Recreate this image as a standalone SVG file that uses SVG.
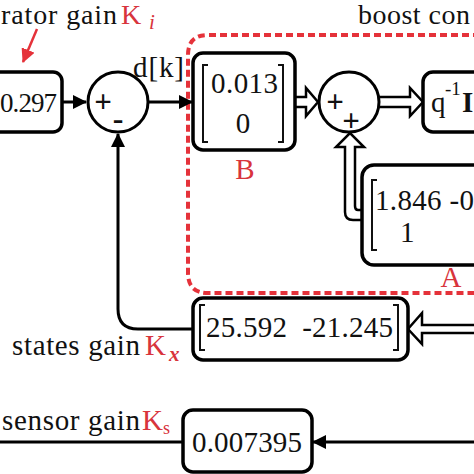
<svg xmlns="http://www.w3.org/2000/svg" width="474" height="474" viewBox="0 0 474 474">
<style>
.box{fill:#fff;stroke:#000;stroke-width:3.5}
.ln{fill:none;stroke:#000;stroke-width:3}
.hol{fill:#fff;stroke:#000;stroke-width:2.5;stroke-linejoin:miter}
.brk{fill:none;stroke:#111;stroke-width:2}
</style>
<defs>
<marker id="ah" markerWidth="14" markerHeight="14" refX="13" refY="7" orient="auto" markerUnits="userSpaceOnUse">
<path d="M0,0 L14,7 L0,14 Z" fill="#000"/>
</marker>
<marker id="rah" markerWidth="14" markerHeight="14" refX="13" refY="7" orient="auto" markerUnits="userSpaceOnUse">
<path d="M0,0 L14,7 L0,14 Z" fill="#e5323a"/>
</marker>
</defs>
<g font-family="Liberation Serif, DejaVu Serif, serif" font-size="29" fill="#111">

<g id="boost-region">
<path d="M480,35 L208,35 Q188,35 188,55 L188,273 Q188,293 208,293 L480,293" fill="none" stroke="#e5323a" stroke-width="4" stroke-dasharray="7,4"/>
<text x="358" y="24" font-size="28" textLength="112">boost con</text>
</g>

<g id="connectors">
<path class="ln" d="M62,102 L86,102" marker-end="url(#ah)"/>
<path class="ln" d="M148,102 L192,102" marker-end="url(#ah)"/>
<path class="ln" d="M193,329 L138,329 Q118,329 118,309 L118,134" marker-end="url(#ah)"/>
<path class="ln" d="M474,442 L313,442" marker-end="url(#ah)"/>
<path class="ln" d="M183,442 L0,442"/>
<path d="M37,29 L23,62" stroke="#e5323a" stroke-width="2.5" marker-end="url(#rah)"/>
<path class="hol" d="M295,97 L306,97 L306,88 L318,102 L306,116 L306,107 L295,107"/>
<path class="hol" d="M380,97 L410,97 L410,88 L423,102 L410,116 L410,107 L380,107"/>
<path class="hol" d="M362,210 L358,210 Q355,210 355,206 L355,147 L364,147 L350,133 L336,147 L345,147 L345,212 Q345,220 353,220 L362,220"/>
<path class="hol" d="M476,325 L422,325 L422,313 L408,329 L422,344 L422,333 L476,333"/>
<text x="133" y="77" textLength="51">d[k]</text>
</g>

<g id="integrator-gain">
<rect class="box" x="-12" y="72" width="74" height="60" rx="9"/>
<text x="0" y="112" font-size="27" textLength="57">0.297</text>
<text x="1" y="24" font-size="28" textLength="116">rator gain</text>
<text x="121" y="24" font-size="28" fill="#d8343c" textLength="26">K</text>
<text x="149" y="29" fill="#d8343c" font-style="italic" font-size="21">i</text>
</g>

<g id="sum1">
<circle cx="118" cy="102" r="30" fill="#fff" stroke="#000" stroke-width="3"/>
<text x="103" y="112" text-anchor="middle" font-size="31" font-weight="bold">+</text>
<text x="118" y="129" text-anchor="middle" font-size="32" font-weight="bold">-</text>
</g>

<g id="B">
<rect class="box" x="193" y="53" width="102" height="97" rx="10"/>
<path class="brk" d="M208,65 L203,65 L203,142 L208,142"/>
<path class="brk" d="M278,65 L283,65 L283,142 L278,142"/>
<text x="211" y="93" textLength="67">0.013</text>
<text x="243" y="133" text-anchor="middle">0</text>
<text x="245" y="179" text-anchor="middle" fill="#d8343c">B</text>
</g>

<g id="sum2">
<circle cx="349" cy="102" r="30" fill="#fff" stroke="#000" stroke-width="3"/>
<text x="335" y="112" text-anchor="middle" font-size="31" font-weight="bold">+</text>
<text x="351" y="131" text-anchor="middle" font-size="31" font-weight="bold">+</text>
</g>

<g id="delay">
<rect class="box" x="423" y="72" width="70" height="60" rx="10"/>
<text x="431" y="112">q</text>
<text x="445" y="95" font-size="19">-1</text>
<text x="462" y="112" font-weight="bold">I</text>
</g>

<g id="A">
<rect class="box" x="362" y="165" width="130" height="100" rx="12"/>
<path class="brk" d="M377,180 L372,180 L372,250 L377,250"/>
<text x="375" y="210" textLength="99">1.846 -0</text>
<text x="400" y="242">1</text>
<text x="451" y="287" text-anchor="middle" fill="#d8343c">A</text>
</g>

<g id="states-gain">
<rect class="box" x="193" y="298" width="215" height="62" rx="10"/>
<path class="brk" d="M205,305 L200,305 L200,350 L205,350"/>
<path class="brk" d="M393,305 L398,305 L398,350 L393,350"/>
<text x="206" y="337" textLength="187" xml:space="preserve">25.592  -21.245</text>
<text x="12" y="355" textLength="128">states gain</text>
<text x="145" y="355" fill="#d8343c" textLength="23">K</text>
<text x="169" y="361" fill="#d8343c" font-style="italic" font-weight="bold" font-size="21">x</text>
</g>

<g id="sensor-gain">
<rect class="box" x="183" y="410" width="129" height="62" rx="10"/>
<text x="192" y="452" textLength="110">0.007395</text>
<text x="2" y="430" textLength="138">sensor gain</text>
<text x="142" y="430" fill="#d8343c" textLength="18">K</text>
<text x="163" y="434" fill="#d8343c" font-size="18">s</text>
</g>
</g>
</svg>
